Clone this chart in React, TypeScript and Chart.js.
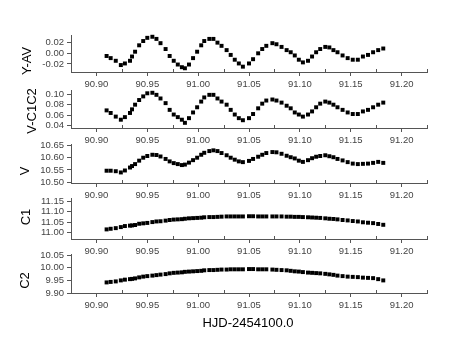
import React, { useEffect, useRef } from "react";
import { Chart, registerables } from "chart.js";

Chart.register(...registerables);

// ---- data ----
const hjd = [
  90.910, 90.914, 90.919, 90.924, 90.928, 90.933, 90.935, 90.938, 90.942, 90.946,
  90.950, 90.955, 90.959, 90.963, 90.968, 90.972, 90.976, 90.980, 90.984, 90.987,
  90.991, 90.995, 90.999, 91.003, 91.006, 91.011, 91.015, 91.019, 91.023, 91.028,
  91.032, 91.036, 91.040, 91.044, 91.050, 91.054, 91.059, 91.063, 91.067, 91.073,
  91.077, 91.082, 91.087, 91.091, 91.095, 91.099, 91.103, 91.108, 91.112, 91.116,
  91.120, 91.125, 91.129, 91.133, 91.137, 91.142, 91.147, 91.152, 91.157, 91.162,
  91.167, 91.172, 91.177, 91.182,
];

const yav = [
  -0.005, -0.009, -0.014, -0.022, -0.019, -0.014, -0.006, 0.003, 0.015, 0.023,
  0.029, 0.031, 0.027, 0.019, 0.008, -0.005, -0.014, -0.021, -0.026, -0.028,
  -0.021, -0.009, 0.003, 0.015, 0.023, 0.027, 0.027, 0.020, 0.014, 0.006,
  -0.003, -0.012, -0.019, -0.025, -0.019, -0.011, 0.000, 0.008, 0.014, 0.019,
  0.017, 0.012, 0.006, 0.002, -0.004, -0.012, -0.017, -0.014, -0.006, 0.002,
  0.008, 0.012, 0.011, 0.006, 0.002, -0.004, -0.009, -0.012, -0.012, -0.006,
  -0.003, 0.002, 0.006, 0.009,
];

const vc1c2 = [
  0.069, 0.064, 0.057, 0.051, 0.056, 0.064, 0.071, 0.080, 0.089, 0.096,
  0.102, 0.103, 0.099, 0.092, 0.083, 0.070, 0.061, 0.056, 0.051, 0.045,
  0.054, 0.065, 0.075, 0.086, 0.094, 0.099, 0.099, 0.092, 0.086, 0.080,
  0.070, 0.061, 0.054, 0.050, 0.054, 0.062, 0.073, 0.082, 0.088, 0.090,
  0.088, 0.084, 0.078, 0.073, 0.065, 0.061, 0.057, 0.061, 0.067, 0.075,
  0.082, 0.086, 0.084, 0.080, 0.075, 0.070, 0.065, 0.062, 0.062, 0.067,
  0.070, 0.075, 0.080, 0.084,
];

const vmag = [
  10.547, 10.547, 10.545, 10.540, 10.548, 10.560, 10.566, 10.574, 10.588, 10.600,
  10.607, 10.612, 10.611, 10.605, 10.595, 10.585, 10.578, 10.574, 10.570, 10.572,
  10.580, 10.590, 10.600, 10.612, 10.620, 10.627, 10.630, 10.627, 10.619, 10.610,
  10.600, 10.592, 10.585, 10.582, 10.587, 10.595, 10.604, 10.612, 10.619, 10.623,
  10.622, 10.616, 10.608, 10.602, 10.597, 10.588, 10.583, 10.590, 10.598, 10.604,
  10.607, 10.610, 10.606, 10.602, 10.595, 10.589, 10.582, 10.576, 10.574, 10.575,
  10.576, 10.579, 10.583, 10.579,
];

const c1 = [
  11.016, 11.019, 11.022, 11.027, 11.032, 11.034, 11.035, 11.037, 11.043, 11.045,
  11.047, 11.051, 11.054, 11.055, 11.058, 11.061, 11.063, 11.064, 11.065, 11.067,
  11.069, 11.070, 11.071, 11.072, 11.074, 11.075, 11.075, 11.076, 11.077, 11.078,
  11.078, 11.078, 11.078, 11.078, 11.079, 11.079, 11.078, 11.078, 11.078, 11.078,
  11.078, 11.078, 11.077, 11.077, 11.076, 11.076, 11.075, 11.074, 11.073, 11.072,
  11.071, 11.069, 11.067, 11.066, 11.064, 11.061, 11.059, 11.056, 11.054, 11.050,
  11.048, 11.046, 11.042, 11.038,
];

const c2 = [
  9.942, 9.944, 9.946, 9.950, 9.953, 9.955, 9.956, 9.958, 9.962, 9.965,
  9.967, 9.969, 9.971, 9.973, 9.975, 9.978, 9.980, 9.981, 9.982, 9.984,
  9.985, 9.986, 9.987, 9.988, 9.990, 9.991, 9.991, 9.992, 9.993, 9.993,
  9.994, 9.994, 9.994, 9.994, 9.995, 9.995, 9.994, 9.994, 9.994, 9.993,
  9.992, 9.991, 9.990, 9.988, 9.986, 9.985, 9.983, 9.981, 9.980, 9.979,
  9.978, 9.976, 9.974, 9.972, 9.969, 9.967, 9.965, 9.964, 9.963, 9.961,
  9.960, 9.959, 9.955, 9.950,
];

const xTicks = [90.9, 90.95, 91.0, 91.05, 91.1, 91.15, 91.2];
const xMinorTicks = [90.925, 90.975, 91.025, 91.075, 91.125, 91.175, 91.225];
const yavTicks = [-0.02, 0.0, 0.02];
const vc1c2Ticks = [0.04, 0.06, 0.08, 0.1];
const vTicks = [10.5, 10.55, 10.6, 10.65];
const c1Ticks = [11.0, 11.05, 11.1, 11.15];
const c2Ticks = [9.9, 9.95, 10.0, 10.05];
const panelTitles = ["Y-AV", "V-C1C2", "V", "C1", "C2"];
const xTitle = "HJD-2454100.0";

// ---- layout / style ----
const W = 474;
const FONT = 'Arial, "Liberation Sans", sans-serif';
const AXIS_COLOR = "#555";
const TICK_COLOR = "#444";
const X_MIN = 90.875;
const X_MAX = 91.225;
const AREA_LEFT = 71;
const AREA_RIGHT = 427;
const PAD_TOP = 8;

type PanelSpec = {
  title: string;
  values: number[];
  ticks: number[];
  yMin: number;
  yMax: number;
  areaTop: number;
  areaBottom: number;
  titleX: number;
  titleY: number;
  xScaleHeight: number;
  xTitle?: string;
};

const panels: PanelSpec[] = [
  { title: panelTitles[0], values: yav, ticks: yavTicks, yMin: -0.035, yMax: 0.033, areaTop: 35, areaBottom: 72, titleX: 27.5, titleY: 61, xScaleHeight: 24 },
  { title: panelTitles[1], values: vc1c2, ticks: vc1c2Ticks, yMin: 0.035, yMax: 0.107, areaTop: 90, areaBottom: 128, titleX: 32, titleY: 111, xScaleHeight: 24 },
  { title: panelTitles[2], values: vmag, ticks: vTicks, yMin: 10.497, yMax: 10.653, areaTop: 144, areaBottom: 183, titleX: 25.5, titleY: 171, xScaleHeight: 24 },
  { title: panelTitles[3], values: c1, ticks: c1Ticks, yMin: 10.97, yMax: 11.163, areaTop: 198, areaBottom: 239, titleX: 26.5, titleY: 217, xScaleHeight: 24 },
  { title: panelTitles[4], values: c2, ticks: c2Ticks, yMin: 9.9, yMax: 10.052, areaTop: 254, areaBottom: 293, titleX: 25.5, titleY: 280.5, xScaleHeight: 51, xTitle },
];

function Panel({ spec }: { spec: PanelSpec }) {
  const ref = useRef<HTMLCanvasElement | null>(null);
  const canvasTop = spec.areaTop - PAD_TOP;
  const canvasHeight = PAD_TOP + (spec.areaBottom - spec.areaTop) + spec.xScaleHeight;

  useEffect(() => {
    if (!ref.current) return;
    const decor = {
      id: "decor" + spec.title,
      afterDraw(chart: any) {
        const ctx = chart.ctx as CanvasRenderingContext2D;
        const xs = chart.scales.x;
        ctx.save();
        // minor x ticks, pointing inward
        ctx.strokeStyle = AXIS_COLOR;
        ctx.lineWidth = 1;
        ctx.beginPath();
        for (const v of xMinorTicks) {
          const px = Math.round(xs.getPixelForValue(v)) + 0.5;
          ctx.moveTo(px, xs.top);
          ctx.lineTo(px, xs.top - 3);
        }
        ctx.stroke();
        // y title
        ctx.fillStyle = "#000";
        ctx.font = `13px ${FONT}`;
        ctx.textAlign = "center";
        ctx.textBaseline = "middle";
        ctx.translate(spec.titleX, spec.titleY - canvasTop);
        ctx.rotate(-Math.PI / 2);
        ctx.fillText(spec.title, 0, 0);
        ctx.restore();
        if (spec.xTitle) {
          ctx.save();
          ctx.fillStyle = "#000";
          ctx.font = `13px ${FONT}`;
          ctx.textAlign = "center";
          ctx.textBaseline = "middle";
          ctx.fillText(spec.xTitle, (AREA_LEFT + AREA_RIGHT) / 2 - 1, 323 - canvasTop);
          ctx.restore();
        }
      },
    };

    const chart = new Chart(ref.current, {
      type: "scatter",
      data: {
        datasets: [
          {
            data: hjd.map((x, i) => ({ x, y: spec.values[i] })),
            showLine: false,
            pointStyle: "rect",
            pointRadius: 2.8,
            pointBackgroundColor: "#000",
            pointBorderWidth: 0,
            clip: false as any,
          },
        ],
      },
      options: {
        animation: false,
        responsive: false,
        events: [],
        layout: { padding: { top: PAD_TOP, left: 0, right: W - AREA_RIGHT, bottom: 0 } },
        plugins: { legend: { display: false }, tooltip: { enabled: false } },
        scales: {
          x: {
            type: "linear",
            position: "bottom",
            min: X_MIN,
            max: X_MAX,
            afterBuildTicks: (s: any) => {
              s.ticks = xTicks.map((v) => ({ value: v }));
            },
            afterFit: (s: any) => {
              s.height = spec.xScaleHeight;
            },
            ticks: {
              callback: (v: any) => Number(v).toFixed(2),
              font: { family: FONT, size: 9.5 },
              color: TICK_COLOR,
              padding: 3,
              maxRotation: 0,
              autoSkip: false,
            },
            grid: { display: true, drawOnChartArea: false, drawTicks: true, tickLength: 4, color: AXIS_COLOR, lineWidth: 1 },
            border: { display: true, color: AXIS_COLOR, width: 1 },
          },
          y: {
            type: "linear",
            position: "left",
            min: spec.yMin,
            max: spec.yMax,
            afterBuildTicks: (s: any) => {
              s.ticks = spec.ticks.map((v) => ({ value: v }));
            },
            afterFit: (s: any) => {
              s.width = AREA_LEFT;
            },
            ticks: {
              callback: (v: any) => Number(v).toFixed(2),
              font: { family: FONT, size: 9.5 },
              color: TICK_COLOR,
              padding: 3,
              autoSkip: false,
            },
            grid: { display: true, drawOnChartArea: false, drawTicks: true, tickLength: 4, color: AXIS_COLOR, lineWidth: 1 },
            border: { display: true, color: AXIS_COLOR, width: 1 },
          },
        },
      },
      plugins: [decor],
    } as any);
    return () => chart.destroy();
  }, [spec]);

  return (
    <canvas
      ref={ref}
      width={W}
      height={canvasHeight}
      style={{ position: "absolute", left: 0, top: canvasTop, width: W, height: canvasHeight }}
    />
  );
}

export default function App() {
  return (
    <div style={{ position: "absolute", left: 0, top: 0, width: W, height: 344, background: "#fff", overflow: "hidden" }}>
      {panels.map((p) => (
        <Panel key={p.title} spec={p} />
      ))}
    </div>
  );
}
